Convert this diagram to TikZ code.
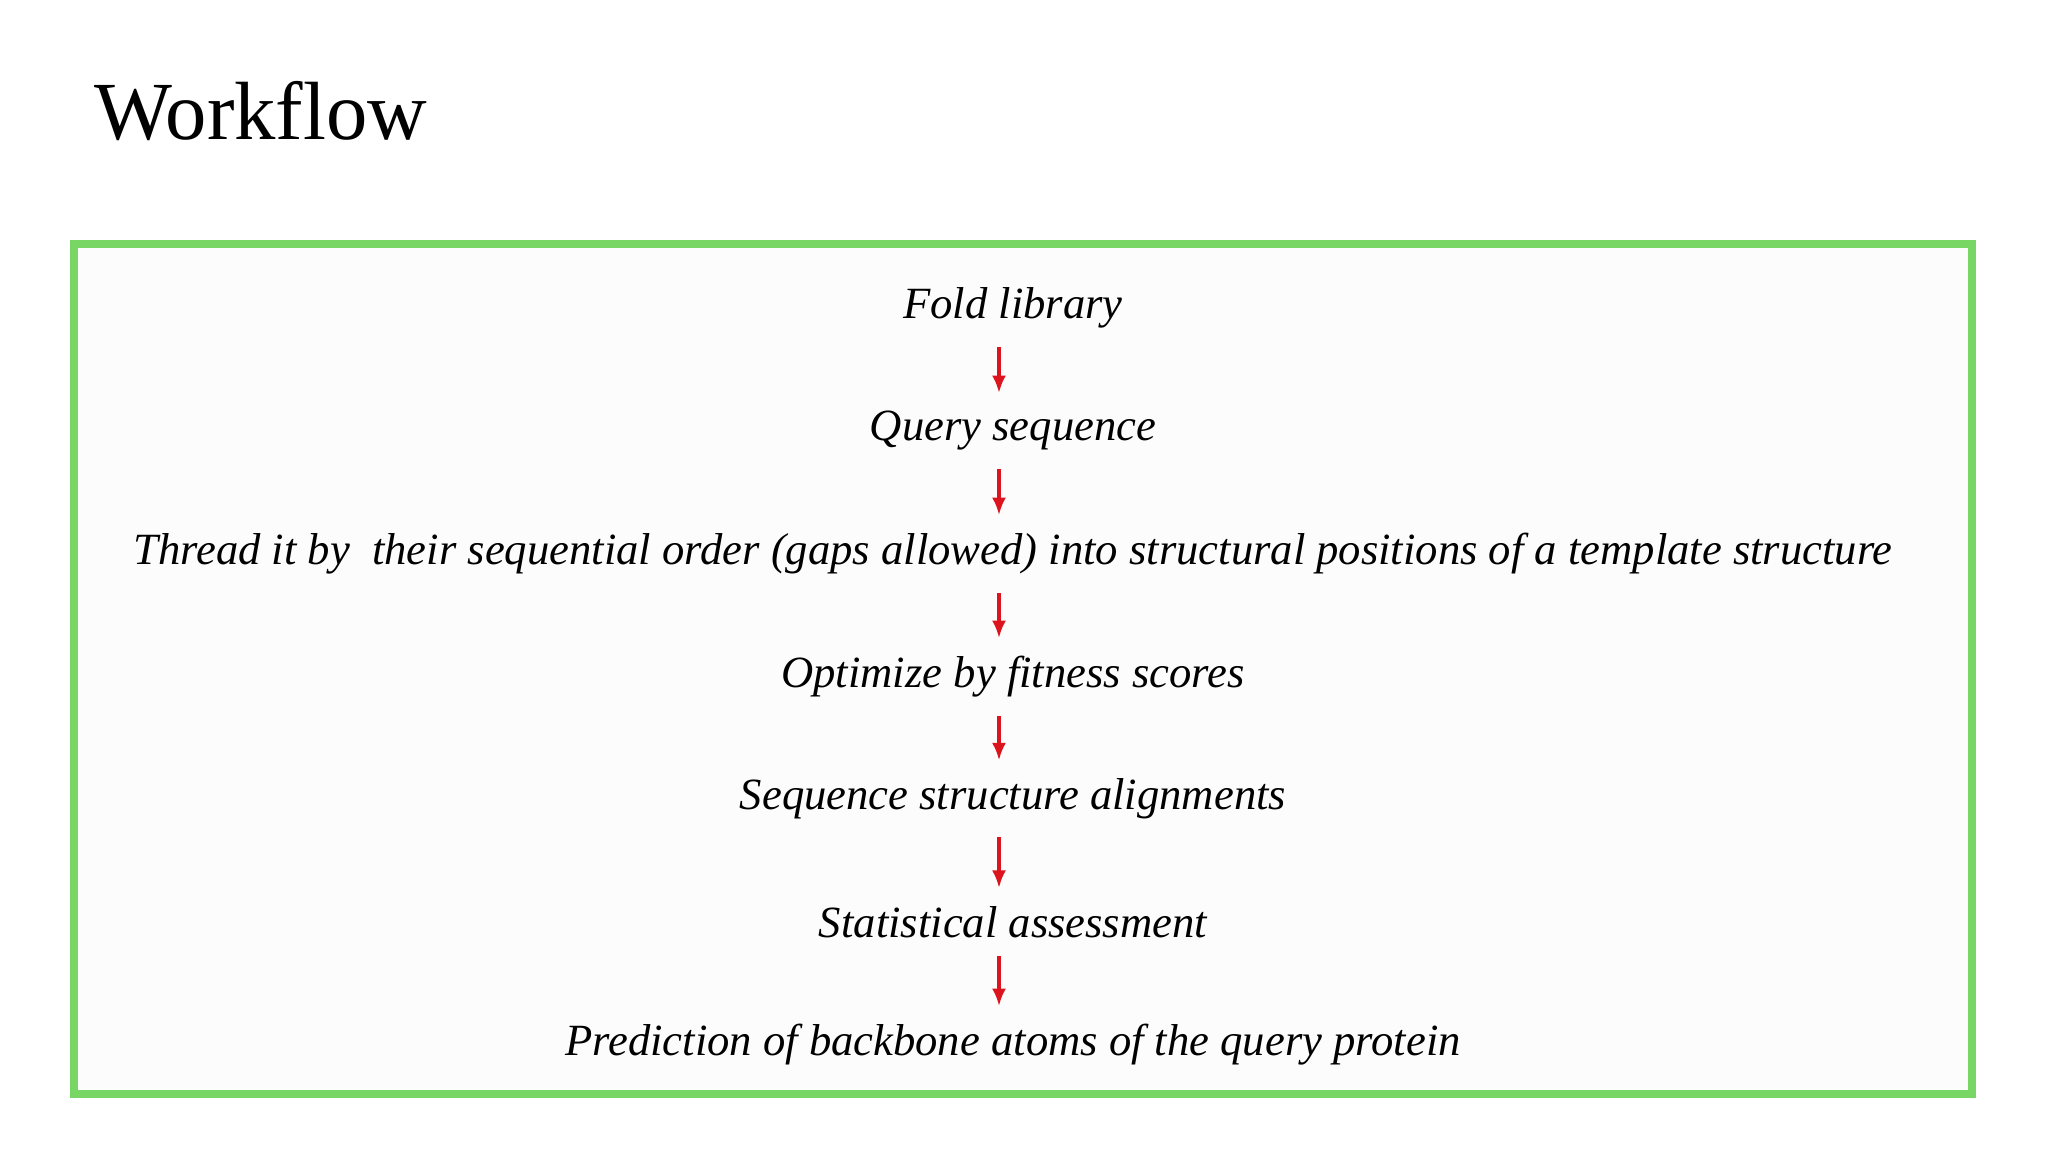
\documentclass[tikz,border=0pt]{standalone}
\usepackage{fontspec}
\setmainfont{Liberation Serif}
\usetikzlibrary{arrows.meta}
\definecolor{boxgreen}{RGB}{120,215,100}
\definecolor{arrred}{RGB}{220,20,30}
\begin{document}
\begin{tikzpicture}[x=1cm,y=1cm,
  stepnode/.style={font=\fontsize{12.7}{15}\selectfont\itshape, inner sep=2pt},
  flow/.style={arrred, line width=1pt, -{Latex[length=5pt,width=4pt]}, shorten <=3pt, shorten >=3pt}]
\useasboundingbox (0,0) rectangle (20.48,11.52);
\fill[white] (0,0) rectangle (20.48,11.52);
\node[anchor=west, font=\fontsize{23.5}{28}\selectfont] (title) at (0.82,10.41) {Workflow};
\draw[boxgreen, line width=2.5pt, fill=gray!2] (0.74,0.58) rectangle (19.72,9.08);
\coordinate (ax) at (9.99,0);
\node[stepnode] (a) at (10.13,8.44) {Fold library};
\node[stepnode] (b) at (10.13,7.21) {Query sequence};
\node[stepnode] (c) at (10.13,5.98) {Thread it by\ \ their sequential order (gaps allowed) into structural positions of a template structure};
\node[stepnode] (d) at (10.13,4.75) {Optimize by fitness scores};
\node[stepnode] (e) at (10.13,3.53) {Sequence structure alignments};
\node[stepnode] (f) at (10.13,2.30) {Statistical assessment};
\node[stepnode] (g) at (10.13,1.07) {Prediction of backbone atoms of the query protein};
\foreach \u/\v in {a/b,b/c,c/d,d/e,e/f,f/g}
  \draw[flow] (\u.south -| ax) -- (\v.north -| ax);
\end{tikzpicture}
\end{document}
